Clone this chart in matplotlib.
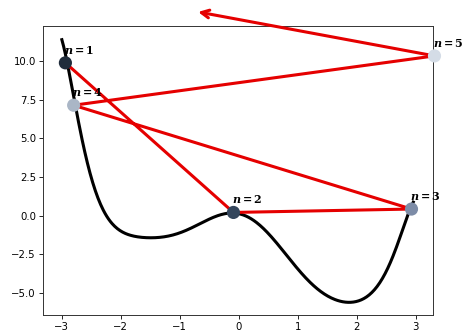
import numpy as np
import matplotlib.pyplot as plt

# function curve: polynomial in u = x / 3 (highest power first)
curve_coefs = [-119.627, 30.374, 292.839, -74.232, -257.770, 56.600,
               123.287, -15.499, -32.585, -2.381, 0.119]
curve_scale = 3.0
curve_range = [-3.0, 2.96]

# iterates
steps = [1, 2, 3, 4, 5]
step_x = [-2.94, -0.09, 2.93, -2.80, 3.32]
step_y = [9.90, 0.20, 0.42, 7.15, 10.35]
# where the last arrow points to
arrow_to = [-0.69, 13.2]

step_colors = ['#202c3b', '#34465c', '#7d8ca7', '#aab6c6', '#d4dce6']

fig = plt.figure(figsize=(4.74, 3.35), dpi=100)
ax = fig.add_axes([0.0907, 0.0597, 0.8222, 0.8623])

t = np.linspace(curve_range[0], curve_range[1], 400)
ax.plot(t, np.polyval(curve_coefs, t / curve_scale), color='black', lw=2.2, zorder=2)

ax.plot(step_x, step_y, color='#e50000', lw=2.2, zorder=3, clip_on=False)
ax.annotate('', xy=arrow_to, xytext=(step_x[-1], step_y[-1]),
            arrowprops=dict(arrowstyle='->', color='#e50000', lw=2.2,
                            mutation_scale=14, shrinkA=0, shrinkB=0),
            annotation_clip=False, zorder=3)

ax.scatter(step_x, step_y, s=90, c=step_colors, zorder=4, clip_on=False, linewidths=0)

for n, x, y in zip(steps, step_x, step_y):
    ax.annotate(r'$\boldsymbol{n = %d}$' % n, (x, y), xytext=(-1, 5),
                textcoords='offset points', ha='left', va='bottom',
                fontsize=8, math_fontfamily='dejavuserif',
                annotation_clip=False, zorder=5)

ax.set_xlim(-3.32, 3.29)
ax.set_ylim(-6.45, 12.28)
ax.set_xticks([-3, -2, -1, 0, 1, 2, 3])
ax.set_yticks([-5.0, -2.5, 0.0, 2.5, 5.0, 7.5, 10.0])
ax.tick_params(labelsize=7.3, width=0.6, length=2.6, pad=2.5)
for s in ax.spines.values():
    s.set_linewidth(0.7)
    s.set_color('#333333')

fig.savefig('out.png', dpi=100)
